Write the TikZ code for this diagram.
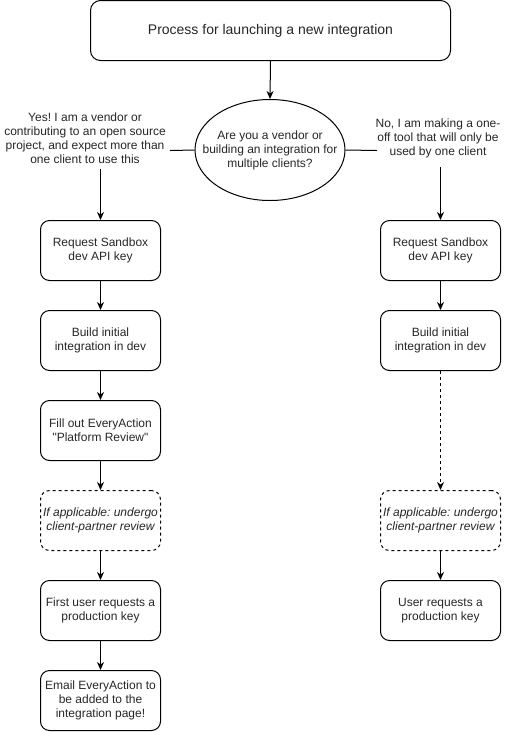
\documentclass[tikz,border=0pt]{standalone}
\usepackage{fontspec}
\setmainfont{Liberation Sans}
\usetikzlibrary{arrows.meta,shapes.geometric}
\frenchspacing
\begin{document}
\begin{tikzpicture}[x=1pt,y=-1pt,
  txt/.style={font=\fontsize{12}{14}\selectfont, text=black!85, align=center},
  box/.style={txt, draw, rounded corners=9pt, line width=1pt, minimum width=120pt, minimum height=60pt, inner sep=0pt},
  dbox/.style={box, dash pattern=on 3pt off 3pt, font=\fontsize{12}{14}\selectfont\itshape},
  arr/.style={-{Stealth[length=8pt,width=7pt,inset=2.5pt]}, line width=1pt},
  ln/.style={line width=1pt}]
\useasboundingbox (0,0) rectangle (506,732);
\node[box, minimum width=360pt, rounded corners=10pt, font=\fontsize{14}{16}\selectfont] (top) at (270.5,30.5) {Process for launching a new integration};
\node[draw, ellipse, line width=1pt, minimum width=150pt, minimum height=101pt, inner sep=0pt] (q) at (270,150) {};
\node[txt, inner sep=0pt] (qt) at (q.center) {Are you a vendor or\\building an integration for\\multiple clients?};
\node[txt, inner sep=0pt] (yes) at (85,138) {Yes! I am a vendor or\\contributing to an open source\\project, and expect more than\\one client to use this};
\node[txt, inner sep=0pt] (no) at (438,138) {No, I am making a one-\\off tool that will only be\\used by one client};
\coordinate (yesend) at (170,150.5);
\coordinate (noend) at (377,150.5);
\coordinate (yesout) at (100.5,169);
\coordinate (noout) at (440.5,167);

\node[box] (l1) at (100.5,250.5) {Request Sandbox\\dev API key};
\node[box] (l2) at (100.5,340.5) {Build initial\\integration in dev};
\node[box] (l3) at (100.5,430.5) {Fill out EveryAction\\\textquotedbl Platform Review\textquotedbl};
\node[dbox] (l4) at (100.5,520.5) {If applicable: undergo\\client-partner review};
\node[box] (l5) at (100.5,610.5) {First user requests a\\production key};
\node[box] (l6) at (100.5,700.5) {Email EveryAction to\\be added to the\\integration page!};

\node[box] (r1) at (440.5,250.5) {Request Sandbox\\dev API key};
\node[box] (r2) at (440.5,340.5) {Build initial\\integration in dev};
\node[dbox] (r4) at (440.5,520.5) {If applicable: undergo\\client-partner review};
\node[box] (r5) at (440.5,610.5) {User requests a\\production key};

\draw[arr] (top.south) -- (q.north);
\draw[ln] (q.west) -- (yesend);
\draw[ln] (q.east) -- (noend);
\draw[arr] (yesout) -- (l1.north);
\draw[arr] (noout) -- (r1.north);
\draw[arr] (l1) -- (l2);
\draw[arr] (l2) -- (l3);
\draw[arr] (l3) -- (l4);
\draw[arr] (l4) -- (l5);
\draw[arr] (l5) -- (l6);
\draw[arr] (r1) -- (r2);
\draw[arr, dash pattern=on 3pt off 3pt] (r2) -- (r4);
\draw[arr] (r4) -- (r5);
\end{tikzpicture}
\end{document}
